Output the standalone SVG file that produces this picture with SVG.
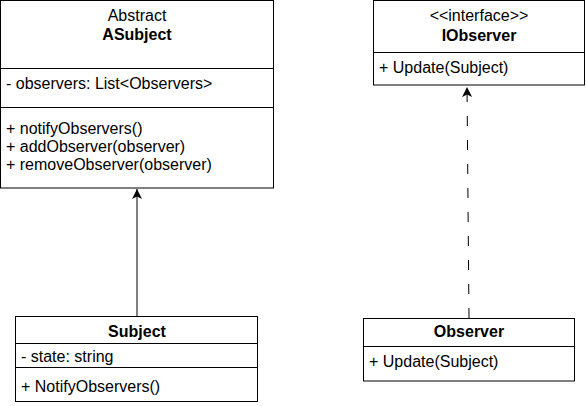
<svg xmlns="http://www.w3.org/2000/svg" width="586" height="406" viewBox="0 0 586 406">
<style>
  .box { fill: #ffffff; stroke: #000000; stroke-width: 1; }
  .div { stroke: #000000; stroke-width: 1; fill: none; }
  text { font-family: "Liberation Sans", Arial, sans-serif; font-size: 16px; fill: #000000; }
  .c { text-anchor: middle; }
  .b { font-weight: bold; }
  .edge { stroke: #000000; stroke-width: 1; fill: none; }
  .dash { stroke-dasharray: 10 14; }
</style>
<defs>
  <marker id="arrow" markerWidth="10" markerHeight="12" refX="10" refY="5" orient="auto" markerUnits="userSpaceOnUse" viewBox="0 0 10 10">
    <path d="M0,0 L10,5 L0,10 L2.5,5 Z" fill="#000000"/>
  </marker>
</defs>
<g id="ASubject">
  <rect class="box" x="0.5" y="0.5" width="273" height="187.5"/>
  <line class="div" x1="0.5" y1="68.5" x2="273.5" y2="68.5"/>
  <line class="div" x1="0.5" y1="107.5" x2="273.5" y2="107.5"/>
  <text class="c" x="137" y="21">Abstract</text>
  <text class="c b" x="137" y="40">ASubject</text>
  <text x="6" y="89">- observers: List&lt;Observers&gt;</text>
  <text x="6" y="134">+ notifyObservers()</text>
  <text x="6" y="152">+ addObserver(observer)</text>
  <text x="6" y="170">+ removeObserver(observer)</text>
</g>
<g id="IObserver">
  <rect class="box" x="373.5" y="0.5" width="211" height="84.5"/>
  <line class="div" x1="373.5" y1="52.5" x2="584.5" y2="52.5"/>
  <text class="c" x="479" y="21">&lt;&lt;interface&gt;&gt;</text>
  <text class="c b" x="479" y="41">IObserver</text>
  <text x="379" y="73">+ Update(Subject)</text>
</g>
<g id="Subject">
  <rect class="box" x="15.5" y="316.5" width="242" height="85"/>
  <line class="div" x1="15.5" y1="343.5" x2="257.5" y2="343.5"/>
  <line class="div" x1="15.5" y1="367.5" x2="257.5" y2="367.5"/>
  <text class="c b" x="137" y="337">Subject</text>
  <text x="21" y="362">- state: string</text>
  <text x="21" y="392">+ NotifyObservers()</text>
</g>
<g id="Observer">
  <rect class="box" x="363.5" y="318.5" width="211" height="62.5"/>
  <line class="div" x1="363.5" y1="346.5" x2="574.5" y2="346.5"/>
  <text class="c b" x="469" y="337">Observer</text>
  <text x="369" y="367">+ Update(Subject)</text>
</g>
<g id="connectors">
  <line class="edge" x1="137" y1="316" x2="137" y2="189" marker-end="url(#arrow)"/>
  <line class="edge dash" x1="469" y1="318" x2="467" y2="87" marker-end="url(#arrow)"/>
</g>
</svg>
